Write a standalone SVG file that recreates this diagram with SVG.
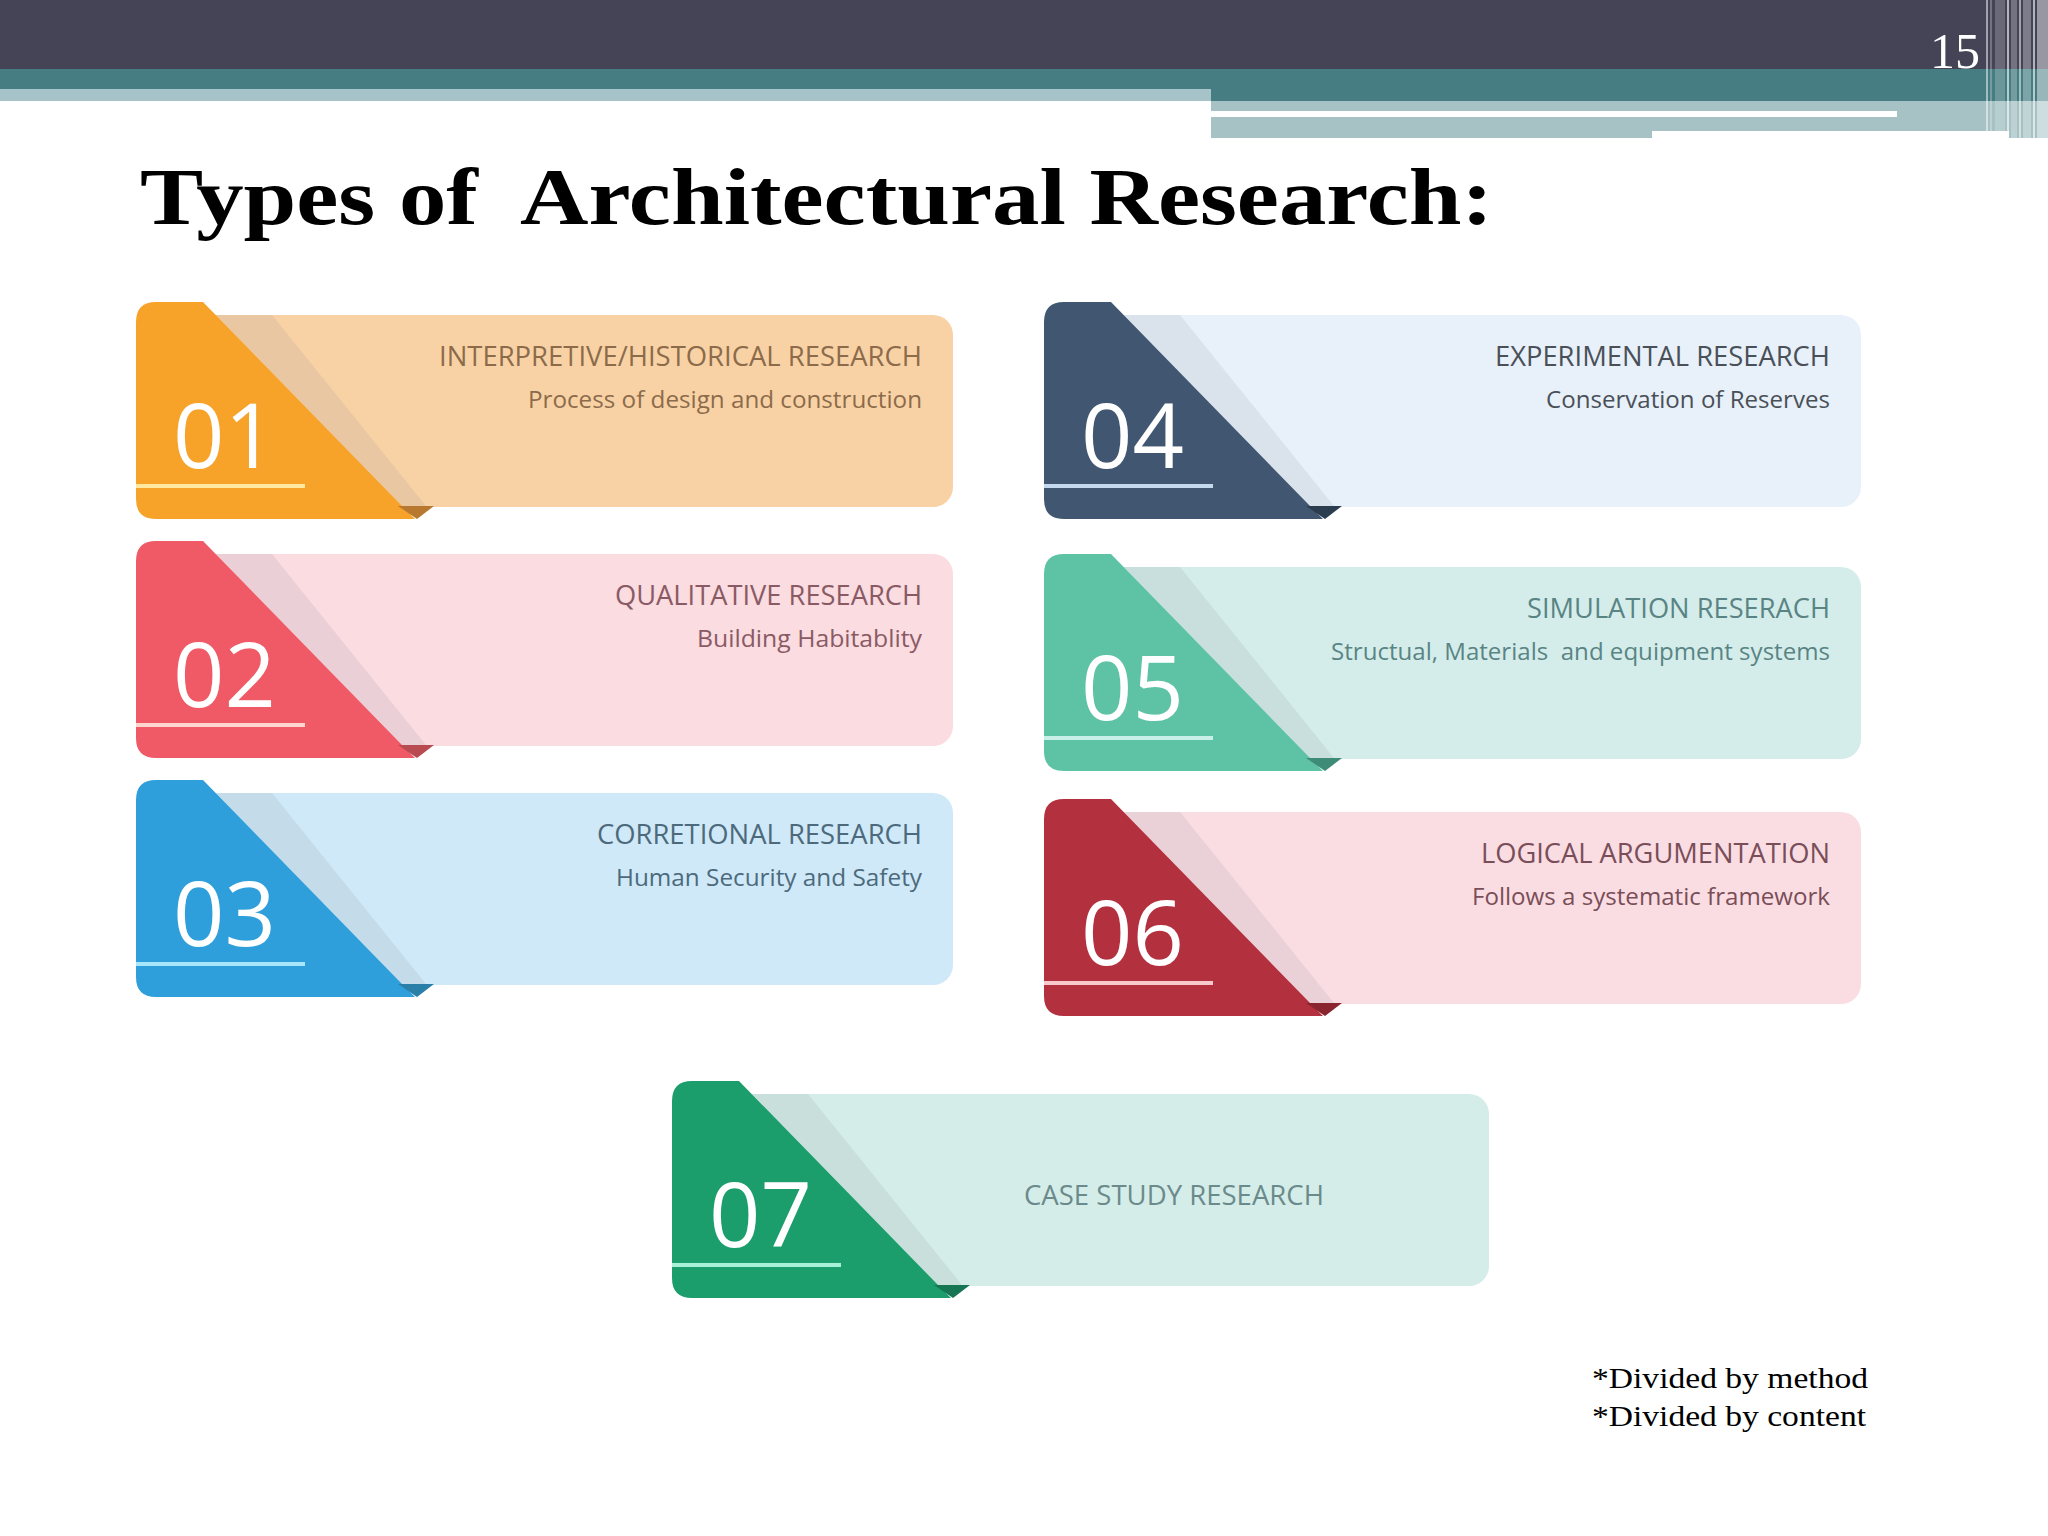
<svg xmlns="http://www.w3.org/2000/svg" width="2048" height="1536" viewBox="0 0 2048 1536">
<defs>
<style>
.num{font-family:"Open Sans","Noto Sans",sans-serif;font-size:90px;fill:#ffffff}
.ttl{font-family:"Open Sans","Noto Sans",sans-serif;font-size:28px}
.sub{font-family:"Open Sans","Noto Sans",sans-serif;font-size:24px}
.band{fill:#7d7d8a;fill-opacity:0.12}
.serif{font-family:"Liberation Serif","Times New Roman",serif}
</style>
<path id="tab" d="M0,20 Q0,0 20,0 H67 L266,204 L279,217 H20 Q0,217 0,197 Z"/>
</defs>
<rect width="2048" height="1536" fill="#ffffff"/>

<g id="header">
<rect x="0" y="0" width="2048" height="69" fill="#454457"/>
<rect x="0" y="69" width="2048" height="20" fill="#467D82"/>
<rect x="1211" y="89" width="837" height="12" fill="#467D82"/>
<rect x="0" y="89" width="1211" height="12" fill="#A7C3CA"/>
<rect x="1211" y="101" width="837" height="37" fill="#A6C2C5"/>
<rect x="1211" y="111" width="686" height="6" fill="#ffffff"/>
<rect x="1652" y="131" width="357" height="7" fill="#ffffff"/>
<g fill="#ffffff">
<rect x="1986" y="0" width="2" height="131" fill-opacity="0.5"/>
<rect x="1990" y="0" width="2" height="131" fill-opacity="0.25"/>
<rect x="1995" y="0" width="10" height="131" fill-opacity="0.2"/>
<rect x="2007" y="0" width="2" height="138" fill-opacity="0.6"/>
<rect x="2011" y="0" width="6" height="138" fill-opacity="0.25"/>
<rect x="2019" y="0" width="2" height="138" fill-opacity="0.5"/>
<rect x="2023" y="0" width="8" height="138" fill-opacity="0.3"/>
<rect x="2033" y="0" width="2" height="138" fill-opacity="0.6"/>
<rect x="2037" y="0" width="11" height="138" fill-opacity="0.45"/>
</g>
<text class="serif" x="1980" y="68" text-anchor="end" font-size="50" fill="#ffffff">15</text>
</g>

<text id="title" class="serif" x="140" y="224" font-size="80" font-weight="bold" fill="#000000" xml:space="preserve" textLength="1353" lengthAdjust="spacingAndGlyphs">Types of  Architectural Research:</text>

<g id="card01" transform="translate(136,302)">
<rect x="60" y="13" width="757" height="192" rx="20" fill="#F8D2A5"/>
<polygon class="band" points="80,13 136,13 290,204 266,204"/>
<use href="#tab" fill="#F7A229"/>
<polygon points="262,204 298,204 281,217" fill="#B8782F"/>
<rect x="0" y="182" width="169" height="4" fill="#FFE9A0"/>
<text class="num" x="37" y="166">01</text>
<text class="ttl" x="303" y="64" fill="#8C6B4B" textLength="483" lengthAdjust="spacingAndGlyphs">INTERPRETIVE/HISTORICAL RESEARCH</text>
<text class="sub" x="392" y="106" fill="#8C6B4B" textLength="394" lengthAdjust="spacingAndGlyphs">Process of design and construction</text>
</g>

<g id="card02" transform="translate(136,541)">
<rect x="60" y="13" width="757" height="192" rx="20" fill="#FADCE1"/>
<polygon class="band" points="80,13 136,13 290,204 266,204"/>
<use href="#tab" fill="#EF5A66"/>
<polygon points="262,204 298,204 281,217" fill="#B84A52"/>
<rect x="0" y="182" width="169" height="4" fill="#FFD5D0"/>
<text class="num" x="37" y="166">02</text>
<text class="ttl" x="479" y="64" fill="#8A5A64" textLength="307" lengthAdjust="spacingAndGlyphs">QUALITATIVE RESEARCH</text>
<text class="sub" x="561" y="106" fill="#8A5A64" textLength="225" lengthAdjust="spacingAndGlyphs">Building Habitablity</text>
</g>

<g id="card03" transform="translate(136,780)">
<rect x="60" y="13" width="757" height="192" rx="20" fill="#CFE9F8"/>
<polygon class="band" points="80,13 136,13 290,204 266,204"/>
<use href="#tab" fill="#2E9FDA"/>
<polygon points="262,204 298,204 281,217" fill="#2A7FA8"/>
<rect x="0" y="182" width="169" height="4" fill="#A8E6FA"/>
<text class="num" x="37" y="166">03</text>
<text class="ttl" x="461" y="64" fill="#4D6A7C" textLength="325" lengthAdjust="spacingAndGlyphs">CORRETIONAL RESEARCH</text>
<text class="sub" x="480" y="106" fill="#4D6A7C" textLength="306" lengthAdjust="spacingAndGlyphs">Human Security and Safety</text>
</g>

<g id="card04" transform="translate(1044,302)">
<rect x="60" y="13" width="757" height="192" rx="20" fill="#E8F1FA"/>
<polygon class="band" points="80,13 136,13 290,204 266,204"/>
<use href="#tab" fill="#405671"/>
<polygon points="262,204 298,204 281,217" fill="#2D3D50"/>
<rect x="0" y="182" width="169" height="4" fill="#C5D9EE"/>
<text class="num" x="37" y="166">04</text>
<text class="ttl" x="451" y="64" fill="#4A5058" textLength="335" lengthAdjust="spacingAndGlyphs">EXPERIMENTAL RESEARCH</text>
<text class="sub" x="502" y="106" fill="#4A5058" textLength="284" lengthAdjust="spacingAndGlyphs">Conservation of Reserves</text>
</g>

<g id="card05" transform="translate(1044,554)">
<rect x="60" y="13" width="757" height="192" rx="20" fill="#D4EDEA"/>
<polygon class="band" points="80,13 136,13 290,204 266,204"/>
<use href="#tab" fill="#5EC3A5"/>
<polygon points="262,204 298,204 281,217" fill="#3E8C78"/>
<rect x="0" y="182" width="169" height="4" fill="#C9F0E8"/>
<text class="num" x="37" y="166">05</text>
<text class="ttl" x="483" y="64" fill="#5A8484" textLength="303" lengthAdjust="spacingAndGlyphs">SIMULATION RESERACH</text>
<text class="sub" x="287" y="106" fill="#5A8484" xml:space="preserve" textLength="499" lengthAdjust="spacingAndGlyphs">Structual, Materials  and equipment systems</text>
</g>

<g id="card06" transform="translate(1044,799)">
<rect x="60" y="13" width="757" height="192" rx="20" fill="#FADDE3"/>
<polygon class="band" points="80,13 136,13 290,204 266,204"/>
<use href="#tab" fill="#B3313E"/>
<polygon points="262,204 298,204 281,217" fill="#8A2530"/>
<rect x="0" y="182" width="169" height="4" fill="#F7C9CC"/>
<text class="num" x="37" y="166">06</text>
<text class="ttl" x="437" y="64" fill="#7A4E58" textLength="349" lengthAdjust="spacingAndGlyphs">LOGICAL ARGUMENTATION</text>
<text class="sub" x="428" y="106" fill="#7A4E58" textLength="358" lengthAdjust="spacingAndGlyphs">Follows a systematic framework</text>
</g>

<g id="card07" transform="translate(672,1081)">
<rect x="60" y="13" width="757" height="192" rx="20" fill="#D4EDE8"/>
<polygon class="band" points="80,13 136,13 290,204 266,204"/>
<use href="#tab" fill="#1B9E6C"/>
<polygon points="262,204 298,204 281,217" fill="#167552"/>
<rect x="0" y="182" width="169" height="4" fill="#A8F0D8"/>
<text class="num" x="37" y="166">07</text>
<text class="ttl" x="352" y="124" fill="#6B8A8C" textLength="300" lengthAdjust="spacingAndGlyphs">CASE STUDY RESEARCH</text>
</g>

<g id="connectors"></g>

<g id="footnote" class="serif" font-size="30" fill="#000000">
<text x="1592" y="1388" textLength="276" lengthAdjust="spacingAndGlyphs">*Divided by method</text>
<text x="1592" y="1426" textLength="274" lengthAdjust="spacingAndGlyphs">*Divided by content</text>
</g>
</svg>
